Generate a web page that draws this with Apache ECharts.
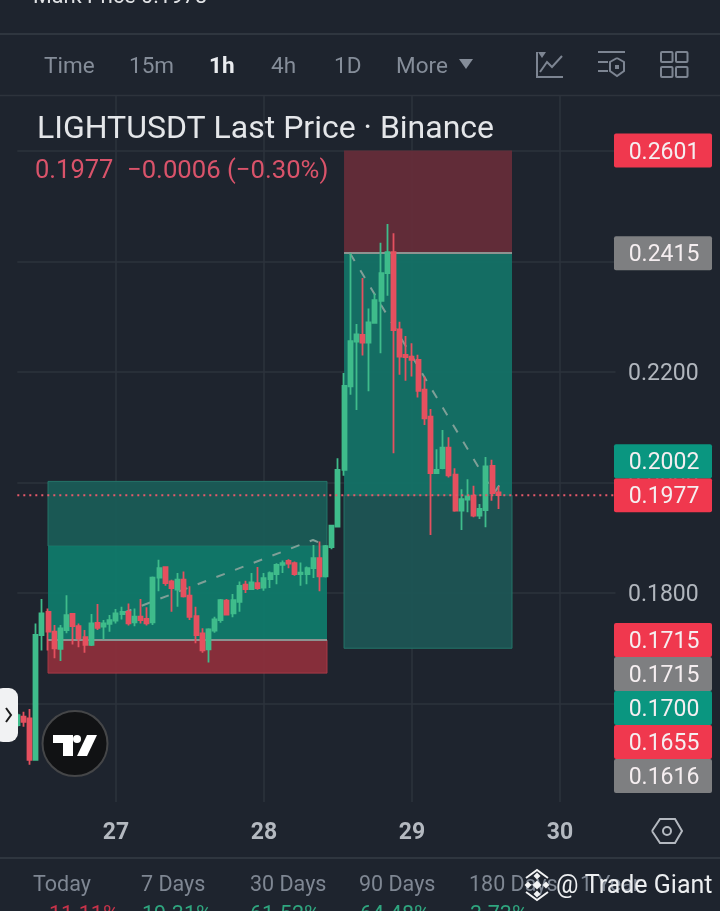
<!DOCTYPE html>
<html><head><meta charset="utf-8">
<style>html,body{margin:0;padding:0;background:#1e242e}#c{width:720px;height:911px}</style>
<script src="https://cdn.jsdelivr.net/npm/echarts@6/dist/echarts.min.js"></script>
</head><body><div id="c"></div>
<script>
const opens=[.1561,.1576,.1573,.1498,.1724,.1766,.1730,.1699,.1733,.1762,.1740,.1720,.1706,.1746,.1739,.1744,.1750,.1762,.1766,.1747,.1757,.1753,.1747,.1828,.1847,.1821,.1806,.1824,.1795,.1758,.1727,.1698,.1732,.1751,.1786,.1763,.1784,.1815,.1807,.1818,.1810,.1825,.1834,.1851,.1858,.1854,.1834,.1834,.1845,.1863,.1830,.1883,.1920,.2023,.2174,.2255,.2267,.2253,.2289,.2329,.2379,.2417,.2277,.2231,.2228,.2222,.2168,.2119,.2017,.2026,.2063,.2014,.1949,.1969,.1976,.1940,.1950,.2030,.1982];
const closes=[.1579,.1567,.1498,.1724,.1763,.1730,.1700,.1736,.1760,.1740,.1718,.1706,.1745,.1737,.1745,.1751,.1763,.1766,.1745,.1757,.1751,.1745,.1828,.1845,.1818,.1809,.1824,.1794,.1757,.1724,.1696,.1734,.1752,.1787,.1761,.1787,.1813,.1807,.1819,.1809,.1827,.1836,.1851,.1854,.1853,.1834,.1837,.1845,.1863,.1830,.1885,.1922,.2023,.2175,.2256,.2268,.2253,.2290,.2330,.2379,.2417,.2276,.2228,.2227,.2222,.2166,.2116,.2017,.2023,.2063,.2013,.1949,.1970,.1975,.1940,.1952,.2029,.1981,.1977];
const lows=[.1558,.1558,.1489,.1498,.1696,.1696,.1682,.1677,.1727,.1707,.1702,.1692,.1704,.1733,.1716,.1730,.1745,.1752,.1741,.1740,.1745,.1741,.1742,.1803,.1813,.1766,.1775,.1792,.1751,.1709,.1692,.1674,.1728,.1746,.1760,.1756,.1766,.1800,.1806,.1806,.1804,.1809,.1816,.1836,.1845,.1831,.1813,.1816,.1827,.1803,.1828,.1879,.1920,.2012,.2159,.2131,.2230,.2165,.2288,.2234,.2338,.2053,.2195,.2184,.2192,.2154,.2104,.1905,.2017,.2024,.2009,.1947,.1914,.1946,.1937,.1934,.1919,.1967,.1952];
const highs=[.1582,.1585,.1590,.1745,.1789,.1772,.1742,.1742,.1796,.1763,.1745,.1733,.1762,.1780,.1751,.1760,.1771,.1775,.1781,.1772,.1789,.1774,.1830,.1860,.1848,.1824,.1836,.1839,.1812,.1775,.1736,.1736,.1757,.1789,.1789,.1798,.1821,.1822,.1836,.1847,.1836,.1839,.1854,.1859,.1861,.1857,.1855,.1848,.1887,.1893,.1887,.1923,.2044,.2198,.2415,.2287,.2370,.2315,.2342,.2434,.2468,.2451,.2291,.2265,.2252,.2231,.2192,.2133,.2060,.2095,.2082,.2026,.1988,.2006,.1994,.1961,.2046,.2041,.1993];
const dayTicks={16:'27',40:'28',64:'29',88:'30'};
const hours=Array.from({length:98},(_,i)=>dayTicks[i]||String(i));
const lastPrice=0.1977;

// Position tools: [hour from, hour to, price top, price bottom]
const leftTool=[4.98,50.22], rightTool=[52.98,80.22];
const leftLevels={target:.2002,reached:.1885,entry:.1715,stop:.1655};
const rightLevels={stop:.2601,entry:.2415,reached:.1977,target:.1700};
const leftPath=[[17.14,.1764],[47.95,.1896],[49.41,.1889]];
const rightPath=[[53.95,.2415],[77.30,.1981],[78.59,.2002]];
const priceLine=[[0,lastPrice],[97,lastPrice]];

const upperTags=[['0.2601','#f0384e',.2601],['0.2415','#7e7f81',.2415],['0.1977','#f0384e',.1977]];
const stackTags=[['0.1715','#f0384e'],['0.1715','#7e7f81'],['0.1700','#0a9680'],['0.1655','#f0384e'],['0.1616','#7e7f81']];
const tabs=[['Time',44,false],['15m',129,false],['1h',209,true],['4h',271,false],['1D',334,false],['More',396,false]];
const periods=['Today','7 Days','30 Days','90 Days','180 Days','1 Year'];
const periodX=[33,141,250,359,469,580];
const returns=[['-11.11%','#c8334a',43],['19.31%','#2fa67f',142],['61.52%','#2fa67f',250],['64.48%','#2fa67f',360],['3.73%','#2fa67f',470]];

const BG='#1e242e', GRID='#2d333c', UP='#3fbc8b', DOWN='#e5505f', FONT='Roboto, sans-serif';
const isDay=i=>!!dayTicks[i];
const band=(tool,t,b,c,edge)=>[{coord:[tool[0],t],itemStyle:{color:c,opacity:.93,borderColor:edge||c,borderWidth:edge?1:0}},{coord:[tool[1],b]}];
const entry=(tool,p)=>[{coord:[tool[0],p]},{coord:[tool[1],p]}];

const chart=echarts.init(document.getElementById('c'),null,{renderer:'canvas'});
chart.setOption({
  animation:false,backgroundColor:BG,
  grid:{left:17.3,width:598.2,top:95.75,bottom:97,containLabel:false},
  xAxis:[
   {type:'category',data:hours,boundaryGap:false,axisLine:{show:false},axisTick:{show:false},
    axisLabel:{interval:i=>isDay(i),margin:8,color:'#b4b9c0',fontFamily:FONT,fontWeight:'bold',fontSize:23,formatter:v=>v},
    splitLine:{show:true,interval:i=>isDay(i),lineStyle:{color:GRID,width:1.5}}},
   {type:'value',min:0,max:97,show:false}
  ],
  yAxis:{type:'value',position:'right',min:.14,max:.27,interval:.02,axisLine:{show:false},axisTick:{show:false},
    axisLabel:{margin:12.5,showMinLabel:false,showMaxLabel:false,align:'left',formatter:v=>'{n|'+v.toFixed(4)+'}',
      rich:{n:{color:'#b1b6bd',fontFamily:FONT,fontSize:23,padding:[5,0,0,0]}}},
    splitLine:{show:true,showMinLine:false,showMaxLine:false,lineStyle:{color:GRID,width:1.5}}},
  series:[
   {type:'line',xAxisIndex:1,data:leftPath,showSymbol:false,silent:true,z:3,
    lineStyle:{color:'#7f9f97',width:2,type:[9,11]},
    markArea:{silent:true,data:[
      band(leftTool,leftLevels.target,leftLevels.reached,'#1a5d57','#25786c'),
      band(leftTool,leftLevels.reached,leftLevels.entry,'#0f7c6c'),
      band(leftTool,leftLevels.entry,leftLevels.stop,'#8e2f3b','#ad3a48')]},
    markLine:{silent:true,symbol:'none',label:{show:false},lineStyle:{color:'#8d9391',width:2,type:'solid'},data:[entry(leftTool,leftLevels.entry)]}},
   {type:'line',xAxisIndex:1,data:rightPath,showSymbol:false,silent:true,z:3,
    lineStyle:{color:'#7f9f97',width:2,type:[9,11]},
    markArea:{silent:true,data:[
      band(rightTool,rightLevels.stop,rightLevels.entry,'#662d39'),
      band(rightTool,rightLevels.entry,rightLevels.reached,'#137367'),
      band(rightTool,rightLevels.reached,rightLevels.target,'#1d5655','#25786c')]},
    markLine:{silent:true,symbol:'none',label:{show:false},lineStyle:{color:'#8d9391',width:2,type:'solid'},data:[entry(rightTool,rightLevels.entry)]}},
   {type:'candlestick',z:5,clip:false,barWidth:4.5,
    data:opens.map((o,i)=>[o,closes[i],lows[i],highs[i]]),
    itemStyle:{color:UP,color0:DOWN,borderColor:UP,borderColor0:DOWN,borderWidth:1.8}},
   {type:'line',xAxisIndex:1,data:priceLine,showSymbol:false,silent:true,z:6,
    lineStyle:{color:'#e6596b',width:2,type:[2,4]}}
  ]
});

const txt=(text,x,y,size,fill,o={})=>({type:'text',z:100,x,y:y+2,style:Object.assign({text,fill,fontSize:size,fontFamily:FONT,textVerticalAlign:'middle',textAlign:'left',verticalAlign:'middle',align:'left'},o)});
const line=(pts,c='#7d8592',w=2,o={})=>({type:'polyline',z:100,shape:{points:pts},style:Object.assign({stroke:c,lineWidth:w,fill:null},o)});
const poly=(pts,c)=>({type:'polygon',z:100,shape:{points:pts},style:{fill:c}});
const box=(x,y,w,h,o)=>({type:'rect',z:100,shape:{x,y,width:w,height:h,r:o.r||0},style:o.style});
const tag=(t,c,yc)=>[
  {type:'rect',z:101,shape:{x:614,y:yc-17,width:98,height:34,r:2},style:{fill:c}},
  {type:'text',z:102,x:664,y:yc+2.5,style:{text:t,fill:'#f5eef0',fontSize:23,fontFamily:FONT,align:'center',verticalAlign:'middle'}}
];
const py=p=>chart.convertToPixel({yAxisIndex:0},p);

const g=[];
// masks the grid lines below the plot, above the day labels
g.push(box(0,802,612,13,{style:{fill:BG}}));
// header
g.push(txt('Mark Price 0.1978',33,-4.5,21.5,'#e0e2e5'));
g.push(line([[0,34],[720,34]],'#363c46',1.5),line([[0,95.5],[720,95.5]],'#2d333c',1.5),line([[0,858],[720,858]],'#363c46',1.5));
tabs.forEach(t=>g.push(txt(t[0],t[1],65,22.5,t[2]?'#eaecef':'#858d99',{fontWeight:t[2]?'bold':'normal'})));
g.push(poly([[459,59],[473,59],[466,69]],'#858d99'));
// toolbar icons
g.push(line([[537,52],[537,77],[563,77]]),line([[540,72],[547,62],[552,67],[562,56]]),poly([[538,52],[546,52],[542,58]],'#7d8592'));
g.push(line([[598,52],[625,52]]),line([[598,62],[608,62]]),line([[598,71],[608,71]]));
g.push(line([[617,58],[624,62],[624,71],[617,76],[610,71],[610,62],[617,58]]),box(615,65,4,4,{style:{fill:'#7d8592'}}));
[[661,52],[676,52],[661,67],[676,67]].forEach(p=>g.push(box(p[0],p[1],11.5,10,{r:1,style:{stroke:'#7d8592',lineWidth:2,fill:null}})));
// legend
g.push(txt('LIGHTUSDT Last Price · Binance',37,128,32,'#e4e6e9'));
g.push(txt('0.1977',35,170,25.5,'#d9536a'),txt('−0.0006 (−0.30%)',127,170,25.7,'#d9536a'));
// price tags
upperTags.forEach(t=>g.push(...tag(t[0],t[1],py(t[2]))));
g.push(...tag('0.2002','#0a9680',py(lastPrice)-34));
stackTags.forEach((t,i)=>g.push(...tag(t[0],t[1],py(.1715)+34*i)));
// side handle + logo
g.push(box(-6,688,24,54,{r:9,style:{fill:'#f1f2f3'}}),line([[6,708],[11,715],[6,722]],'#1b1b1b',2));
g.push({type:'circle',z:100,shape:{cx:75,cy:743.5,r:32.5},style:{fill:'#111214',stroke:'#454648',lineWidth:2}});
g.push(poly([[53,735],[73,735],[73,756],[63,756],[63,743],[53,743]],'#fff'),poly([[87,735],[97,735],[87,756],[77,756]],'#fff'),{type:'circle',z:101,shape:{cx:77,cy:739,r:4},style:{fill:'#fff'}});
// settings hexagon
g.push(line([[652,831],[660,819],[675,819],[682,831],[675,843],[660,843],[652,831]],'#b4b9c0',2));
g.push({type:'circle',z:100,shape:{cx:667,cy:831,r:4},style:{stroke:'#b4b9c0',lineWidth:2,fill:null}});
// footer
periods.forEach((p,i)=>g.push(txt(p,periodX[i],884,21.5,'#7f8793')));
returns.forEach(r=>g.push(txt(r[0],r[2],914,21.5,r[1])));
// watermark
[[537,885,4.5],[528,885,3.5],[546,885,3.5],[537,876,3.5],[537,894,3.5]].forEach(d=>g.push(poly([[d[0],d[1]-d[2]],[d[0]+d[2],d[1]],[d[0],d[1]+d[2]],[d[0]-d[2],d[1]]],'#f2f3f4')));
g.push(line([[526,878],[537,870],[548,878]],'#f2f3f4',2),line([[526,892],[537,900],[548,892]],'#f2f3f4',2));
g.push(txt('@ Trade Giant',556,885,25,'#eceef0'));
chart.setOption({graphic:{elements:g}});
</script></body></html>
